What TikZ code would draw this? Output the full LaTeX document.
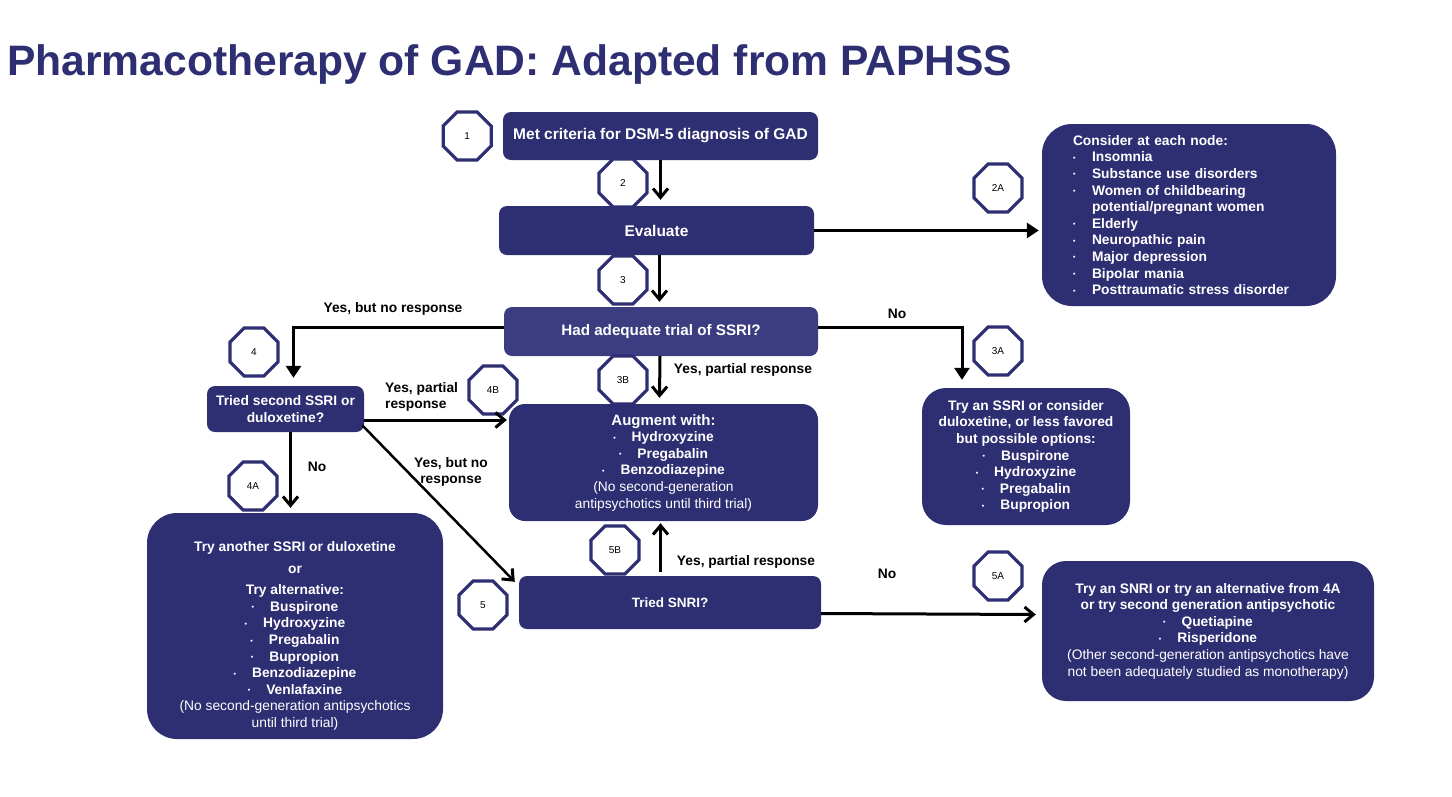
\documentclass[tikz,border=0pt]{standalone}
\usepackage{fontspec}
\setmainfont{Liberation Sans}
\usepackage{xcolor}
\definecolor{colorBox}{RGB}{46,46,115}
\definecolor{colorQuery}{RGB}{60,60,128}
\colorlet{colorStep}{colorBox}
\usepackage{tikz}
\usetikzlibrary{arrows.meta, shapes.geometric, positioning}
\tikzset{
  box/.style={draw=none, fill=colorBox, text=white, font=\fontsize{13.8}{16.6}\selectfont\bfseries, align=center, inner sep=0pt},
  stepoct/.style={regular polygon, regular polygon sides=8, draw=colorStep, line width=3.2pt, fill=white, minimum size=52pt, inner sep=0pt, font=\fontsize{10}{10}\selectfont},
  lbl/.style={font=\fontsize{13.8}{16}\selectfont\bfseries, align=left, inner sep=0pt},
  flow/.style={line width=3pt, ->},
  barb/.style={-{Straight Barb[length=9pt, width=15pt, line width=3pt]}},
}
\newcommand{\bul}{\makebox[19pt][l]{\raisebox{1.5pt}{\fontsize{7}{7}\selectfont\textbullet}}}
\newcommand{\cbul}{{\fontsize{7}{7}\selectfont\raisebox{1.5pt}{\textbullet}}\hspace{16pt}}
\newcommand{\nb}[1]{{\mdseries #1}}

\begin{document}
\begin{tikzpicture}[x=1pt, y=-1pt, >={Triangle[length=12pt, width=15pt]}]
\useasboundingbox (0,0) rectangle (1452,796);
\node[anchor=west, text=colorBox, font=\fontsize{42.6}{42.6}\selectfont\bfseries, inner sep=0pt] (title) at (7,64) {Pharmacotherapy of GAD: Adapted from PAPHSS};

% main column
\node[box, font=\fontsize{15.5}{18}\selectfont\bfseries, rounded corners=8pt, minimum width=315pt, minimum height=48pt] (m1) at (660.5,136) {Met criteria for DSM-5 diagnosis of GAD};
\node[box, font=\fontsize{15.5}{18}\selectfont\bfseries, rounded corners=8pt, minimum width=315pt, minimum height=49pt] (m2) at (656.5,230.5) {Evaluate};
\node[box, font=\fontsize{15.2}{18}\selectfont\bfseries, fill=colorQuery, rounded corners=8pt, minimum width=314pt, minimum height=49pt] (m3) at (661,331.5) {Had adequate trial of SSRI?};
\node[box, rounded corners=16pt, minimum width=309pt, minimum height=117pt] (aug) at (663.5,462.5) {{\fontsize{15}{16.6}\selectfont Augment with:}\\\cbul Hydroxyzine\\\cbul Pregabalin\\\cbul Benzodiazepine\\\nb{(No second-generation}\\\nb{antipsychotics until third trial)}};
\node[box, font=\fontsize{13.5}{16}\selectfont\bfseries, rounded corners=8pt, minimum width=302pt, minimum height=53pt] (m5) at (670,602.5) {Tried SNRI?};

% left branch
\node[box, rounded corners=8pt, minimum width=157pt, minimum height=46pt] (m4) at (285.5,409) {Tried second SSRI or\\duloxetine?};
\node[box, rounded corners=30pt, minimum width=296pt, minimum height=226pt] (m4a) at (295,626) {\rule{0pt}{30pt}Try another SSRI or duloxetine\\[5pt]or\\[5pt]Try alternative:\\\cbul Buspirone\\\cbul Hydroxyzine\\\cbul Pregabalin\\\cbul Bupropion\\\cbul Benzodiazepine\\\cbul Venlafaxine\\\nb{(No second-generation antipsychotics}\\\nb{until third trial)}};

% right branch
\node[box, rounded corners=30pt, minimum width=294pt, minimum height=182pt, inner xsep=31pt, text width=232pt, align=left] (m2a) at (1189,215) {Consider at each node:\\\bul Insomnia\\\bul Substance use disorders\\\bul Women of childbearing\\\hspace*{19pt}potential/pregnant women\\\bul Elderly\\\bul Neuropathic pain\\\bul Major depression\\\bul Bipolar mania\\\bul Posttraumatic stress disorder};
\node[box, rounded corners=24pt, minimum width=208pt, minimum height=137pt] (m3a) at (1026,456.5) {Try an SSRI or consider\\duloxetine, or less favored\\but possible options:\\\cbul Buspirone\\\cbul Hydroxyzine\\\cbul Pregabalin\\\cbul Bupropion};
\node[box, rounded corners=24pt, minimum width=332pt, minimum height=140pt] (m5a) at (1208,631) {Try an SNRI or try an alternative from 4A\\or try second generation antipsychotic\\\cbul Quetiapine\\\cbul Risperidone\\\nb{(Other second-generation antipsychotics have}\\\nb{not been adequately studied as monotherapy)}};

% step numbers
\node[stepoct, left=10pt of m1] (o1) {1};
\node[stepoct] (o2) at (623,183) {2};
\node[stepoct] (o2a) at (998,188) {2A};
\node[stepoct] (o3) at (623,280) {3};
\node[stepoct] (o3a) at (998,351) {3A};
\node[stepoct] (o3b) at (623,380) {3B};
\node[stepoct] (o4) at (254,352) {4};
\node[stepoct] (o4a) at (253,486) {4A};
\node[stepoct] (o4b) at (493,390) {4B};
\node[stepoct] (o5) at (483,605) {5};
\node[stepoct] (o5a) at (998,576) {5A};
\node[stepoct] (o5b) at (615,550) {5B};

% connector labels
\node[lbl] (l3no) at (897,314) {No};
\node[lbl] (l3yes) at (393,309) {Yes, but no response};
\node[lbl] (l3part) at (743,370) {Yes, partial response};
\node[lbl, anchor=west] (l4part) at (385,397) {Yes, partial\\response};
\node[lbl, align=center] (l4yes) at (451,472) {Yes, but no\\response};
\node[lbl] (l4no) at (317,467) {No};
\node[lbl] (l5part) at (746,562) {Yes, partial response};
\node[lbl] (l5no) at (887,574) {No};

% connectors
\draw[flow, barb] (m1.south) -- ([yshift=6pt]m1.south |- m2.north);
\draw[flow, barb] ([xshift=3pt]m2.south) -- ([xshift=3pt,yshift=5pt]m2.south |- m3.north);
\draw[flow] (m2.east) -- ([xshift=-3pt]m2.east -| m2a.west);
\draw[flow] ([yshift=4pt]m3.west) -| ([xshift=8pt,yshift=8pt]m4.north);
\draw[flow] ([yshift=4pt]m3.east) -| ([xshift=-64pt,yshift=8pt]m3a.north);
\draw[flow, barb] ([xshift=-1pt]m3.south) -- ([xshift=-4pt,yshift=6pt]aug.north);
\draw[flow, barb] ([yshift=-11pt]m4.east) -- ([xshift=-2pt,yshift=-11pt]m4.east -| aug.west);
\draw[flow, barb, line width=2.5pt] ([xshift=-2pt,yshift=7pt]m4.south east) -- ([xshift=-4pt,yshift=-6pt]m5.north west);
\draw[flow, barb] ([xshift=5pt]m4.south) -- ([xshift=5pt,yshift=5pt]m4.south |- m4a.north);
\draw[flow, barb] ([xshift=-3pt,yshift=4pt]aug.south |- m5.north) -- ([xshift=-3pt,yshift=-2pt]aug.south);
\draw[flow, barb] ([yshift=-11pt]m5.east) -- ([xshift=-6pt,yshift=-12pt]m5.east -| m5a.west);
\end{tikzpicture}
\end{document}
